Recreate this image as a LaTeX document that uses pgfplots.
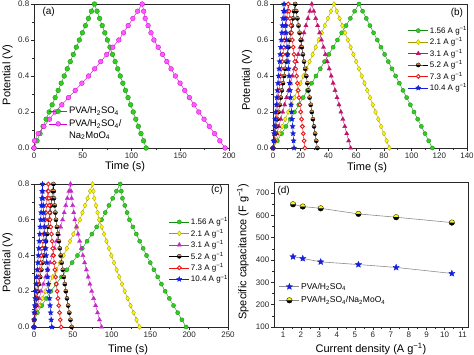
\documentclass[border=0pt]{standalone}
\usepackage{pgfplots}
\pgfplotsset{compat=1.18}
\usepackage{pgfplotstable}
\usepackage{fontspec}
\setmainfont{Liberation Sans}
\definecolor{gfill}{RGB}{50,205,30}
\definecolor{gdraw}{RGB}{20,140,20}
\definecolor{yfill}{RGB}{255,250,0}
\definecolor{ydraw}{RGB}{165,155,0}
\definecolor{crim}{RGB}{190,20,110}
\definecolor{mag}{RGB}{195,40,200}
\definecolor{pfill}{RGB}{255,90,255}
\definecolor{pdraw}{RGB}{205,0,205}
\definecolor{orng}{RGB}{225,145,60}
\definecolor{rd}{RGB}{235,20,20}
\definecolor{bl}{RGB}{20,30,220}
\definecolor{axgray}{RGB}{40,40,40}

\pgfdeclareplotmark{fstar}{%
  \pgfpathmoveto{\pgfpointpolar{90}{\pgfplotmarksize}}%
  \pgfpathlineto{\pgfpointpolar{126}{0.45\pgfplotmarksize}}%
  \pgfpathlineto{\pgfpointpolar{162}{\pgfplotmarksize}}%
  \pgfpathlineto{\pgfpointpolar{198}{0.45\pgfplotmarksize}}%
  \pgfpathlineto{\pgfpointpolar{234}{\pgfplotmarksize}}%
  \pgfpathlineto{\pgfpointpolar{270}{0.45\pgfplotmarksize}}%
  \pgfpathlineto{\pgfpointpolar{306}{\pgfplotmarksize}}%
  \pgfpathlineto{\pgfpointpolar{342}{0.45\pgfplotmarksize}}%
  \pgfpathlineto{\pgfpointpolar{18}{\pgfplotmarksize}}%
  \pgfpathlineto{\pgfpointpolar{54}{0.45\pgfplotmarksize}}%
  \pgfpathclose
  \pgfusepathqfillstroke
}

% Panel (b): PVA/H2SO4 charge/discharge at six current densities
\pgfplotstableread{
V b1 b2 b3 b4 b5 b6
0 0 0 0 0 0 0
0.04 3.1 2.2 1.4 0.8 0.55 0.4
0.08 6.2 4.4 2.8 1.6 1.1 0.8
0.12 9.3 6.6 4.2 2.4 1.65 1.2
0.16 12.4 8.8 5.6 3.2 2.2 1.6
0.20 15.5 11 7 4 2.75 2
0.24 18.6 13.2 8.4 4.8 3.3 2.4
0.28 21.7 15.4 9.8 5.6 3.85 2.8
0.32 24.8 17.6 11.2 6.4 4.4 3.2
0.36 27.9 19.8 12.6 7.2 4.95 3.6
0.40 31 22 14 8 5.5 4
0.44 34.1 24.2 15.4 8.8 6.05 4.4
0.48 37.2 26.4 16.8 9.6 6.6 4.8
0.52 40.3 28.6 18.2 10.4 7.15 5.2
0.56 43.4 30.8 19.6 11.2 7.7 5.6
0.60 46.5 33 21 12 8.25 6
0.64 49.6 35.2 22.4 12.8 8.8 6.4
0.68 52.7 37.4 23.8 13.6 9.35 6.8
0.72 55.8 39.6 25.2 14.4 9.9 7.2
0.76 58.9 41.8 26.6 15.2 10.45 7.6
0.80 62 44 28 16 11 8
0.76 64.65 46 29.4 16.8 11.6 8.36
0.72 67.3 48 30.8 17.6 12.2 8.72
0.68 69.95 50 32.2 18.4 12.8 9.08
0.64 72.6 52 33.6 19.2 13.4 9.44
0.60 75.25 54 35 20 14 9.8
0.56 77.9 56 36.4 20.8 14.6 10.16
0.52 80.55 58 37.8 21.6 15.2 10.52
0.48 83.2 60 39.2 22.4 15.8 10.88
0.44 85.85 62 40.6 23.2 16.4 11.24
0.40 88.5 64 42 24 17 11.6
0.36 91.15 66 43.4 24.8 17.6 11.96
0.32 93.8 68 44.8 25.6 18.2 12.32
0.28 96.45 70 46.2 26.4 18.8 12.68
0.24 99.1 72 47.6 27.2 19.4 13.04
0.20 101.75 74 49 28 20 13.4
0.16 104.4 76 50.4 28.8 20.6 13.76
0.12 107.05 78 51.8 29.6 21.2 14.12
0.08 109.7 80 53.2 30.4 21.8 14.48
0.04 112.35 82 54.6 31.2 22.4 14.84
0 115 84 56 32 23 15.2
}\tabB

% Panel (c): PVA/H2SO4/Na2MoO4 charge/discharge at six current densities
\pgfplotstableread{
V c1 c2 c3 c4 c5 c6
0 0 0 0 0 0 0
0.04 0.6 0.4 0.2 0.1 0.1 0.1
0.08 4.3 2.9 1.8 1.0 0.7 0.4
0.12 10.1 6.9 4.3 2.3 1.7 1.0
0.16 15.9 10.8 6.7 3.6 2.6 1.6
0.20 21.6 14.7 9.2 4.9 3.6 2.1
0.24 28.5 19.4 12.1 6.4 4.8 2.8
0.28 35.4 24.1 15.0 8.0 5.9 3.5
0.32 42.3 28.8 17.9 9.5 7.0 4.2
0.36 49.1 33.4 20.8 11.1 8.2 4.9
0.40 56.0 38.1 23.7 12.6 9.3 5.6
0.44 62.2 42.3 26.3 14.0 10.4 6.2
0.48 68.4 46.5 29.0 15.4 11.4 6.8
0.52 74.6 50.7 31.6 16.8 12.4 7.4
0.56 80.8 55.0 34.2 18.2 13.5 8.0
0.60 87.0 59.2 36.8 19.6 14.5 8.6
0.64 91.8 62.4 38.9 20.7 15.3 9.1
0.68 96.6 65.7 40.9 21.8 16.1 9.6
0.72 101.4 69.0 43.0 22.9 16.9 10.1
0.76 106.2 72.3 45.0 23.9 17.7 10.5
0.80 111 75.5 47 25 18.5 11
0.76 112.5 76.6 47.7 25.4 18.8 11.2
0.72 114 77.6 48.4 25.8 19.1 11.4
0.68 117 79.8 49.8 26.7 19.7 11.9
0.64 120 81.9 51.2 27.5 20.3 12.3
0.60 123 84.0 52.6 28.3 20.8 12.7
0.56 127.4 87.2 54.7 29.5 21.7 13.3
0.52 131.8 90.3 56.8 30.8 22.5 13.9
0.48 136.2 93.4 58.8 32.0 23.4 14.6
0.44 140.6 96.6 60.9 33.2 24.2 15.2
0.40 145 99.7 63.0 34.4 25.1 15.8
0.36 149.8 103.1 65.2 35.7 26.0 16.5
0.32 154.6 106.5 67.5 37.1 27.0 17.2
0.28 159.4 109.9 69.8 38.4 27.9 17.8
0.24 164.2 113.4 72.0 39.7 28.8 18.5
0.20 169 116.8 74.3 41.0 29.8 19.2
0.16 174.4 120.6 76.8 42.5 30.8 20.0
0.12 179.8 124.4 79.4 44.0 31.9 20.7
0.08 185.2 128.3 81.9 45.5 32.9 21.5
0.04 190.6 132.1 84.4 47.0 33.9 22.2
0 196 136.0 87.0 48.5 35.0 23.0
}\tabC

\pgfplotsset{
  common/.style={
    scale only axis, anchor=south west, clip=true,
    tick align=outside, xtick pos=bottom, ytick pos=left,
    minor tick num=1, major tick length=3pt, minor tick length=1.6pt,
    axis line style={line width=0.8pt, axgray},
    every tick/.style={line width=0.6pt, axgray},
    tick label style={font=\fontsize{8}{9}\selectfont, text=black!85, inner sep=1.5pt},
    label style={font=\fontsize{11}{12}\selectfont},
    /pgf/number format/assume math mode=true,
    legend cell align=left,
    legend style={draw=none, fill=none, anchor=north west,
      font=\fontsize{8}{9}\selectfont, row sep=0pt, nodes={inner sep=1.5pt}},
    legend image code/.code={\draw[mark repeat=2,mark phase=2] plot coordinates {(0cm,0cm) (0.35cm,0cm) (0.7cm,0cm)};},
  },
  potaxis/.style={ymin=0, ymax=0.8, ytick={0,0.2,0.4,0.6,0.8},
    yticklabel style={/pgf/number format/.cd, fixed, fixed zerofill, precision=1}},
  s1/.style={color=gdraw, line width=0.4pt, mark=*, mark size=2.1pt, mark options={fill=gfill, draw=gdraw, line width=0.3pt}},
  s2/.style={color=ydraw, line width=0.4pt, mark=diamond*, mark size=2.5pt, mark options={fill=yfill, draw=ydraw, line width=0.3pt}},
  s3b/.style={color=crim, line width=0.4pt, mark=triangle*, mark size=2.5pt, mark options={fill=crim, draw=crim, line width=0.3pt}},
  s3c/.style={color=mag, line width=0.4pt, mark=triangle*, mark size=2.5pt, mark options={fill=mag, draw=mag, line width=0.3pt}},
  s4/.style={color=black, line width=0.4pt, mark=halfcircle*, mark size=2.1pt, mark options={fill=orng, mark color=black, draw=black, line width=0.3pt}},
  s5/.style={color=rd, line width=0.4pt, mark=*, mark size=1.9pt, mark options={fill=white, draw=rd, line width=0.9pt}},
  s6/.style={color=bl, line width=0.4pt, mark=fstar, mark size=2.7pt, mark options={fill=bl, draw=bl, line width=0.3pt}},
}

\begin{document}
\begin{tikzpicture}
% ---------- (a) ----------
\begin{axis}[common, potaxis, at={(34pt,207pt)}, width=195pt, height=144pt,
  xmin=0, xmax=200, xtick={0,50,100,150,200},
  xlabel={Time (s)}, ylabel={Potential (V)},
  xlabel style={at={(axis description cs:0.467,0)}, anchor=north, yshift=-12.5pt, inner sep=1pt},
  ylabel style={at={(axis description cs:-0.136,0.507)}, anchor=center},
  legend style={at={(axis description cs:0.06,0.31)}, font=\fontsize{9.5}{10.5}\selectfont, row sep=1pt},
  legend image code/.code={\draw[mark repeat=2,mark phase=2] plot coordinates {(0cm,0cm) (0.32cm,0cm) (0.64cm,0cm)};}]
\addplot[s1, mark size=2.4pt] table[x=b1, y=V] {\tabB};
\addlegendentry{PVA/H\textsubscript{2}SO\textsubscript{4}}
\addplot[color=pdraw, line width=0.4pt, mark=*, mark size=2.4pt, mark options={fill=pfill, draw=pdraw, line width=0.3pt}] table[x=c1, y=V] {\tabC};
\addlegendentry{{\begin{tabular}[t]{@{}l@{}}PVA/H\textsubscript{2}SO\textsubscript{4}/\\[1pt]Na\textsubscript{2}MoO\textsubscript{4}\end{tabular}}}
\node[font=\fontsize{10}{11}\selectfont] at (rel axis cs:0.075,0.945) {(a)};
\end{axis}
% ---------- (b) ----------
\begin{axis}[common, potaxis, at={(273pt,207pt)}, width=194pt, height=144pt,
  xmin=0, xmax=140, xtick={0,20,40,60,80,100,120,140},
  xlabel={Time (s)}, ylabel={Potential (V)},
  xlabel style={at={(axis description cs:0.485,0)}, anchor=north, yshift=-13pt, inner sep=1pt},
  ylabel style={at={(axis description cs:-0.134,0.47)}, anchor=center},
  legend style={at={(axis description cs:0.68,0.87)}}]
\addplot[s1] table[x=b1, y=V] {\tabB};
\addlegendentry{1.56 A g\textsuperscript{−1}}
\addplot[s2] table[x=b2, y=V] {\tabB};
\addlegendentry{2.1 A g\textsuperscript{−1}}
\addplot[s3b] table[x=b3, y=V] {\tabB};
\addlegendentry{3.1 A g\textsuperscript{−1}}
\addplot[s4] table[x=b4, y=V] {\tabB};
\addlegendentry{5.2 A g\textsuperscript{−1}}
\addplot[s5] table[x=b5, y=V] {\tabB};
\addlegendentry{7.3 A g\textsuperscript{−1}}
\addplot[s6] table[x=b6, y=V] {\tabB};
\addlegendentry{10.4 A g\textsuperscript{−1}}
\node[font=\fontsize{10}{11}\selectfont] at (rel axis cs:0.948,0.94) {(b)};
\end{axis}
% ---------- (c) ----------
\begin{axis}[common, potaxis, at={(34pt,28pt)}, width=194pt, height=143pt,
  xmin=0, xmax=250, xtick={0,50,100,150,200,250},
  xlabel={Time (s)}, ylabel={Potential (V)},
  xlabel style={at={(axis description cs:0.485,0)}, anchor=north, yshift=-14pt},
  ylabel style={at={(axis description cs:-0.137,0.45)}, anchor=center},
  legend style={at={(axis description cs:0.68,0.79)}}]
\addplot[s1] table[x=c1, y=V] {\tabC};
\addlegendentry{1.56 A g\textsuperscript{−1}}
\addplot[s2] table[x=c2, y=V] {\tabC};
\addlegendentry{2.1 A g\textsuperscript{−1}}
\addplot[s3c] table[x=c3, y=V] {\tabC};
\addlegendentry{3.1 A g\textsuperscript{−1}}
\addplot[s4] table[x=c4, y=V] {\tabC};
\addlegendentry{5.2 A g\textsuperscript{−1}}
\addplot[s5] table[x=c5, y=V] {\tabC};
\addlegendentry{7.3 A g\textsuperscript{−1}}
\addplot[s6] table[x=c6, y=V] {\tabC};
\addlegendentry{10.4 A g\textsuperscript{−1}}
\node[font=\fontsize{10}{11}\selectfont] at (rel axis cs:0.943,0.958) {(c)};
\end{axis}
% ---------- (d) ----------
\begin{axis}[common, at={(274pt,28pt)}, width=194pt, height=145pt,
  xmin=0.5, xmax=11.3, ymin=100, ymax=750,
  xtick={1,2,...,11}, ytick={100,200,300,400,500,600,700},
  xlabel={Current density (A g\textsuperscript{−1})},
  ylabel={Specific capacitance (F g\textsuperscript{−1})},
  xlabel style={at={(axis description cs:0.5,0)}, anchor=north, yshift=-13pt},
  ylabel style={at={(axis description cs:-0.16,0.52)}, anchor=center},
  legend style={at={(axis description cs:0.01,0.33)}, font=\fontsize{8.5}{9.5}\selectfont, row sep=3pt}]
\addplot[color=black!45, line width=0.6pt, mark=fstar, mark size=3.3pt, mark options={fill=bl, draw=bl, line width=0.3pt}]
  coordinates {(1.56,415) (2.1,407) (3.1,392) (5.2,380) (7.3,367) (10.4,340)};
\addlegendentry{PVA/H\textsubscript{2}SO\textsubscript{4}}
\addplot[color=black!45, line width=0.6pt, mark=halfcircle*, mark size=2.8pt, mark options={fill=yfill, mark color=black, draw=black, line width=0.3pt}]
  coordinates {(1.56,650) (2.1,640) (3.1,632) (5.2,607) (7.3,592) (10.4,568)};
\addlegendentry{PVA/H\textsubscript{2}SO\textsubscript{4}/Na\textsubscript{2}MoO\textsubscript{4}}
\node[font=\fontsize{10}{11}\selectfont] at (rel axis cs:0.05,0.94) {(d)};
\end{axis}
\pgfresetboundingbox
\path[use as bounding box] (0,0) rectangle (474pt,355pt);
\end{tikzpicture}
\end{document}
